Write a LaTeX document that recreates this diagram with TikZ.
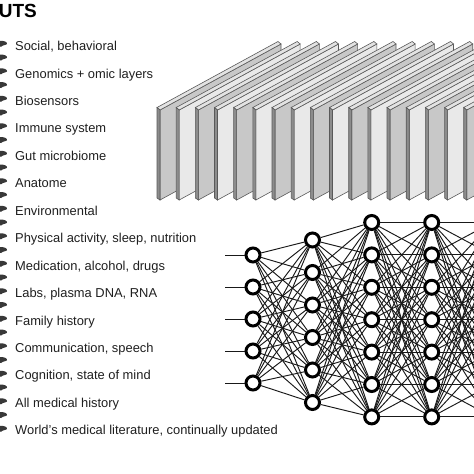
\documentclass[tikz,border=0pt]{standalone}
\usepackage{fontspec}
\setmainfont{Liberation Sans}
\usepackage{xcolor}

\tikzset{
    neuron/.style={circle, draw=black, line width=3pt, fill=white, minimum size=14pt, inner sep=0pt},
    synapse/.style={draw=black!90, line width=0.95pt},
    item/.style={anchor=base west, inner sep=0pt, text=black!88, font=\fontsize{12.9}{14}\selectfont},
    ringmark/.style={fill=black!78},
    plateface/.style={draw=black!65, line width=0.6pt},
}

\begin{document}
\begin{tikzpicture}[x=1pt, y=-1pt]

    % Page frame = picture size
    \useasboundingbox (0,0) rectangle (474,474);
    \clip (0,0) rectangle (474,474);

    % Title (cut off at the left edge)
    \node[anchor=base east, inner sep=0pt, font=\fontsize{19}{20}\selectfont\bfseries] (title) at (37,17) {UTS};

    % Binding marks along the left edge
    \foreach \k in {0,...,28} {
        \pgfmathsetmacro\y{44+13.75*\k}
        \fill[ringmark] (-1,\y-3) .. controls (4,\y-3.8) and (7.5,\y-2) .. (7,\y)
            .. controls (6.5,\y+1.5) and (4,\y+0.5) .. (3,\y+1.5)
            .. controls (2,\y+3) and (0,\y+3) .. (-1,\y+2.5) -- cycle;
    }

    % List of inputs
    \def\inputList{{Social, behavioral}, {Genomics + omic layers}, {Biosensors}, {Immune system},
        {Gut microbiome}, {Anatome}, {Environmental}, {Physical activity, sleep, nutrition},
        {Medication, alcohol, drugs}, {Labs, plasma DNA, RNA}, {Family history},
        {Communication, speech}, {Cognition, state of mind}, {All medical history},
        {World’s medical literature, continually updated}}
    \foreach \txt [count=\k from 0] in \inputList {
        \node[item] (item-\k) at (15, 50.7+27.43*\k) {\txt};
    }

    % Stack of plates (drawn back to front, left to right)
    \foreach \i in {0,...,16} {
        \pgfmathsetmacro\a{157+19.17*\i}
        \pgfmathtruncatemacro\odd{mod(\i,2)}
        \ifnum\odd=0 \def\facecol{gray!43}\else\def\facecol{gray!17}\fi
        % side face
        \filldraw[plateface, fill=\facecol] (\a+3,110) -- (\a+3,200) -- (\a+124,134) -- (\a+124,44) -- cycle;
        % top edge
        \filldraw[plateface, fill=gray!22] (\a,107.5) -- (\a+121,41.5) -- (\a+124,44) -- (\a+3,110) -- cycle;
        % front edge
        \filldraw[plateface, fill=gray!90] (\a,107.5) -- (\a+3,110) -- (\a+3,200) -- (\a,198) -- cycle;
    }

    % Neural network: layers of neurons
    \foreach \k in {1,...,5} {
        \pgfmathsetmacro\y{255+32*(\k-1)}
        \node[neuron] (a-\k) at (253,\y) {};
        \coordinate (in-\k) at (225,\y);
    }
    \foreach \k in {1,...,6} {
        \pgfmathsetmacro\y{240+32.5*(\k-1)}
        \node[neuron] (b-\k) at (312.5,\y) {};
    }
    \foreach \k in {1,...,7} {
        \pgfmathsetmacro\y{222.5+32.4*(\k-1)}
        \node[neuron] (c-\k) at (371.7,\y) {};
        \node[neuron] (d-\k) at (431.7,\y) {};
        \coordinate (e-\k) at (492,\y);
    }

    % Connections
    \foreach \k in {1,...,5} {
        \draw[synapse] (in-\k) -- (a-\k);
        \foreach \j in {1,...,6}
            \draw[synapse] (a-\k) -- (b-\j);
    }
    \foreach \k in {1,...,6} {
        \foreach \j in {1,...,7}
            \draw[synapse] (b-\k) -- (c-\j);
    }
    \foreach \k in {1,...,7} {
        \foreach \j in {1,...,7} {
            \draw[synapse] (c-\k) -- (d-\j);
            \draw[synapse] (d-\k) -- (e-\j);
        }
    }

\end{tikzpicture}
\end{document}
